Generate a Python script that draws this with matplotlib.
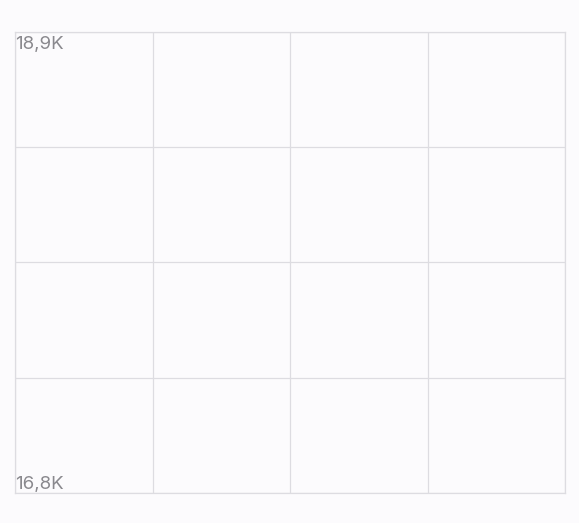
import matplotlib
matplotlib.use("Agg")
import matplotlib.pyplot as plt
import numpy as np

# Data (the chart shows no visible series, only the value range)
y_min = 16.8
y_max = 18.9
y_labels = ["18,9K", "16,8K"]
x_values = []
y_values = []
n_cols = 4
n_rows = 4

fig = plt.figure(figsize=(5.79, 5.23), dpi=100)
fig.patch.set_facecolor("#fcfbfd")
ax = fig.add_axes([15/579, 30/523, 550/579, 461/523])
ax.set_facecolor("#fcfbfd")
ax.set_xlim(0, n_cols)
ax.set_ylim(y_min, y_max)
ax.plot(x_values, y_values, color="#4a90d9")

ax.set_xticks(np.arange(0, n_cols + 1))
ax.set_yticks(np.linspace(y_min, y_max, n_rows + 1))
ax.grid(True, color="#dddce1", linewidth=0.9)
ax.tick_params(length=0, labelbottom=False, labelleft=False)
for s in ax.spines.values():
    s.set_color("#dddce1")
    s.set_linewidth(0.9)

ax.text(0.0, 0.992, y_labels[0], transform=ax.transAxes, ha="left", va="top",
        fontsize=13.5, color="#8a898e", family=["Inter", "DejaVu Sans"])
ax.text(0.0, 0.0, y_labels[1], transform=ax.transAxes, ha="left", va="bottom",
        fontsize=13.5, color="#8a898e", family=["Inter", "DejaVu Sans"])

fig.savefig("out.png", dpi=100, facecolor=fig.get_facecolor())
